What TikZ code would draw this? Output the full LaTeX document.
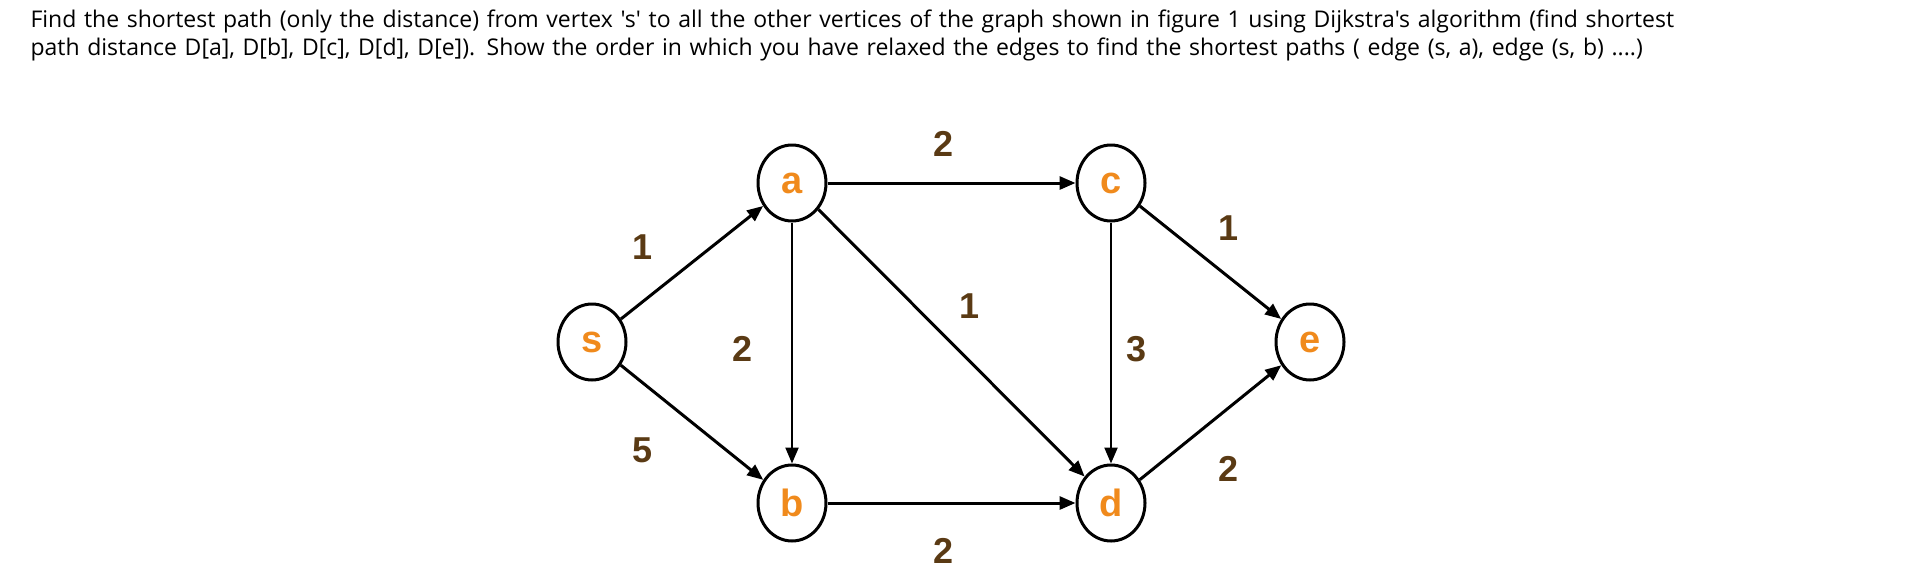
\documentclass[tikz,border=0pt]{standalone}
\usepackage{fontspec}
\setmainfont{Open Sans}[Ligatures=TeXOff]
\newfontfamily\lab{Liberation Sans}
\usetikzlibrary{arrows.meta,shapes.geometric}
\definecolor{nodeor}{HTML}{F08A1C}
\definecolor{labbr}{HTML}{5A3A14}
\begin{document}
\begin{tikzpicture}[x=1pt,y=-1pt,
  vert/.style={draw,line width=3pt,ellipse,minimum width=68pt,minimum height=76pt,inner sep=0pt,font=\lab\bfseries\fontsize{38}{38}\selectfont,text=nodeor},
  edge/.style={line width=3pt,-{Triangle[length=16pt,width=13pt]}},
  wt/.style={font=\lab\bfseries\fontsize{36}{36}\selectfont,text=labbr}]
\useasboundingbox (0,0) rectangle (1912,566);
\node[anchor=base west,font=\fontsize{23}{28}\selectfont,align=left,text width=1880pt] (q) at (27,27)
{Find the shortest path (only the distance) from vertex 's' to all the other vertices of the graph shown in figure 1 using Dijkstra's algorithm (find shortest\\
path distance D[a], D[b], D[c], D[d], D[e]). Show the order in which you have relaxed the edges to find the shortest paths ( edge (s, a), edge (s, b) ....)};
\node[vert] (s) at (592,342) {s};
\node[vert] (a) at (792,183) {a};
\node[vert] (b) at (792,503) {b};
\node[vert] (c) at (1111,183) {c};
\node[vert] (d) at (1111,503) {d};
\node[vert] (e) at (1310,342) {e};
\draw[edge] (s) -- (a);
\draw[edge] (s) -- (b);
\draw[edge] (a) -- (c);
\draw[edge,line width=2.2pt] (a) -- (b);
\draw[edge] (a) -- (d);
\draw[edge] (b) -- (d);
\draw[edge,line width=2.2pt] (c) -- (d);
\draw[edge] (c) -- (e);
\draw[edge] (d) -- (e);
\node[wt] (w1) at (943,144) {2};
\node[wt] (w2) at (643,247) {1};
\node[wt] (w3) at (970,306) {1};
\node[wt] (w4) at (743,349) {2};
\node[wt] (w5) at (1136,349) {3};
\node[wt] (w6) at (1228,228) {1};
\node[wt] (w7) at (643,450) {5};
\node[wt] (w8) at (1228,469) {2};
\node[wt] (w9) at (943,551) {2};
\end{tikzpicture}
\end{document}
